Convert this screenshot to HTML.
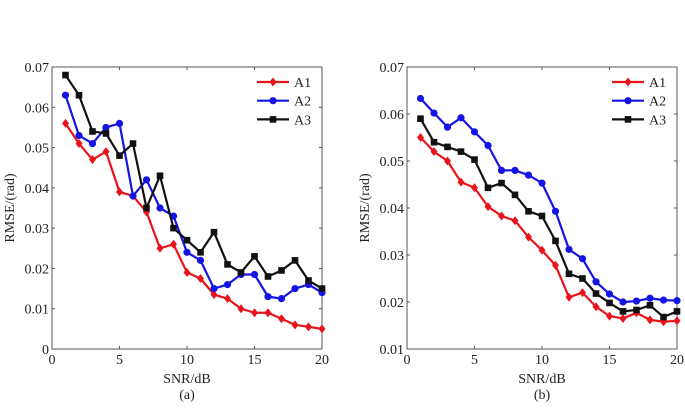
<!DOCTYPE html>
<html><head><meta charset="utf-8"><style>
html,body{margin:0;padding:0;background:#fff;}
svg text{font-family:"Liberation Serif",serif;fill:#222;}
</style></head><body>
<svg id="fig" width="685" height="403" viewBox="0 0 685 403" xmlns="http://www.w3.org/2000/svg"></svg>
<script>
const snr = [1,2,3,4,5,6,7,8,9,10,11,12,13,14,15,16,17,18,19,20];
const seriesNames = ["A1","A2","A3"];
const aA1 = [0.056,0.051,0.047,0.049,0.039,0.038,0.034,0.025,0.026,0.019,0.0175,0.0135,0.0125,0.010,0.009,0.009,0.0075,0.006,0.0055,0.005];
const aA2 = [0.063,0.053,0.051,0.055,0.056,0.038,0.042,0.035,0.033,0.024,0.022,0.015,0.016,0.0185,0.0185,0.013,0.0125,0.015,0.016,0.014];
const aA3 = [0.068,0.063,0.054,0.0535,0.048,0.051,0.035,0.043,0.030,0.027,0.024,0.029,0.021,0.019,0.023,0.018,0.0195,0.022,0.017,0.015];
const bA1 = [0.055,0.052,0.050,0.0455,0.0443,0.0403,0.0383,0.0373,0.0338,0.031,0.0278,0.021,0.022,0.019,0.017,0.0165,0.0177,0.0162,0.0158,0.016];
const bA2 = [0.0633,0.0602,0.0572,0.0592,0.0562,0.0533,0.048,0.048,0.047,0.0453,0.0393,0.0312,0.0292,0.0243,0.0217,0.020,0.0202,0.0208,0.0204,0.0203];
const bA3 = [0.059,0.054,0.053,0.052,0.0503,0.0443,0.0453,0.0428,0.0393,0.0383,0.033,0.026,0.025,0.0218,0.0198,0.018,0.0183,0.0193,0.0168,0.018];
const xTicks = [0,5,10,15,20];
const yTicksA = [0,0.01,0.02,0.03,0.04,0.05,0.06,0.07];
const yTicksB = [0.01,0.02,0.03,0.04,0.05,0.06,0.07];
const colors = ["#e8141b","#1414e6","#111"];
const markers = ["diamond","circle","square"];

const NS="http://www.w3.org/2000/svg";
const svg=document.getElementById('fig');
function mk(tag,attrs,parent){const e=document.createElementNS(NS,tag);for(const k in attrs)e.setAttribute(k,attrs[k]);(parent||svg).appendChild(e);return e;}

function drawMarker(g,type,x,y,c){
  let m;
  if(type==="diamond") m=mk('polygon',{points:`${x},${y-4.5} ${x+3.5},${y} ${x},${y+4.5} ${x-3.5},${y}`,fill:c},g);
  else if(type==="circle") m=mk('circle',{cx:x,cy:y,r:3.6,fill:c},g);
  else m=mk('rect',{x:x-3.3,y:y-3.3,width:6.6,height:6.6,fill:c},g);
  
  
}

function panel(id,L,R,T,B,ymin,ymax,yTicks,data,caption,legX){
  const g=mk('g',{});
  
  
  const sx=v=>L+(v-0)/(20-0)*(R-L);
  const sy=v=>B-(v-ymin)/(ymax-ymin)*(B-T);
  const box=mk('rect',{x:L,y:T,width:R-L,height:B-T,fill:'none',stroke:'#555','stroke-width':1},g);
  
  
  xTicks.forEach(t=>{
    const x=sx(t);
    mk('line',{x1:x,y1:B,x2:x,y2:B-3,stroke:'#555'},g);
    mk('line',{x1:x,y1:T,x2:x,y2:T+3,stroke:'#555'},g);
    const tx=mk('text',{x:x,y:B+15,'text-anchor':'middle','font-size':14},g);
    tx.textContent=t;
    
    
  });
  yTicks.forEach(t=>{
    const y=sy(t);
    mk('line',{x1:L,y1:y,x2:L+3,y2:y,stroke:'#555'},g);
    mk('line',{x1:R,y1:y,x2:R-3,y2:y,stroke:'#555'},g);
    const tx=mk('text',{x:L-3,y:y+5,'text-anchor':'end','font-size':14},g);
    tx.textContent=t===0?'0':t.toFixed(2);
    
    
  });
  const xl=mk('text',{x:(L+R)/2,y:383,'text-anchor':'middle','font-size':14},g);
  xl.textContent='SNR/dB';
  
  
  const cap=mk('text',{x:(L+R)/2,y:399,'text-anchor':'middle','font-size':14},g);
  cap.textContent=caption;
  
  
  const yx=L-38, yy=(T+B)/2;
  const yl=mk('text',{x:yx,y:yy,'text-anchor':'middle','font-size':14,transform:`rotate(-90 ${yx} ${yy})`},g);
  yl.textContent='RMSE/(rad)';
  
  
  data.forEach((arr,i)=>{
    const sg=mk('g',{},g);
    
    
    const pts=arr.map((v,j)=>`${sx(snr[j])},${sy(v)}`).join(' ');
    const pl=mk('polyline',{points:pts,fill:'none',stroke:colors[i],'stroke-width':2.2,'stroke-linejoin':'round'},sg);
    
    
    arr.forEach((v,j)=>drawMarker(sg,markers[i],sx(snr[j]),sy(v),colors[i]));
  });
  const lg=mk('g',{},g);
  
  
  seriesNames.forEach((n,i)=>{
    const y=82+i*18.7;
    const eg=mk('g',{},lg);
    
    
    mk('line',{x1:legX,y1:y,x2:legX+32,y2:y,stroke:colors[i],'stroke-width':2.2},eg);
    drawMarker(eg,markers[i],legX+16,y,colors[i]);
    const t=mk('text',{x:legX+37,y:y+5,'font-size':14},eg);
    t.textContent=n;
  });
}
panel('a',52,322,67,349,0,0.07,yTicksA,[aA1,aA2,aA3],'(a)',257);
panel('b',407,677,67,349,0.01,0.07,yTicksB,[bA1,bA2,bA3],'(b)',612);
</script>
</body></html>
